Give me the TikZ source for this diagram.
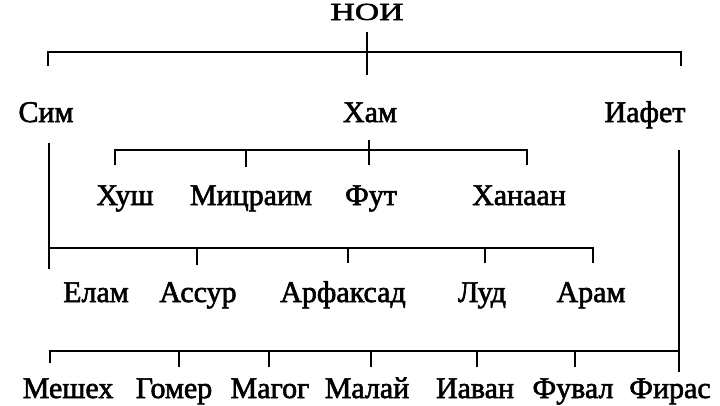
\documentclass[tikz,border=0pt]{standalone}
\usepackage{fontspec}
\setmainfont{Liberation Serif}[FakeBold=2]
\begin{document}
\begin{tikzpicture}[x=1pt,y=-1pt,
  lbl/.style={anchor=base, inner sep=0pt, font=\fontsize{30}{30}\selectfont},
  ln/.style={line width=2.8pt, line cap=butt, line join=miter}]
\useasboundingbox[fill=white] (0,0) rectangle (720,405);
% labels
\node[lbl] (noi) at (367,20) {\scalebox{1.12}[0.82]{НОИ}};
\node[lbl] (sim) at (46,122) {Сим};
\node[lbl] (ham) at (370,122) {Хам};
\node[lbl] (iafet) at (645,122) {Иафет};
\node[lbl] (khush) at (125,205) {Хуш};
\node[lbl] (mits) at (251,205) {Мицраим};
\node[lbl] (fut) at (371,205) {Фут};
\node[lbl] (khanaan) at (519,205) {Ханаан};
\node[lbl] (elam) at (96,302) {Елам};
\node[lbl] (assur) at (198,302) {Ассур};
\node[lbl] (arf) at (343,302) {Арфаксад};
\node[lbl] (lud) at (482,302) {Луд};
\node[lbl] (aram) at (591,302) {Арам};
\node[lbl] (meshekh) at (68,398) {Мешех};
\node[lbl] (gomer) at (174,398) {Гомер};
\node[lbl] (magog) at (270,398) {Магог};
\node[lbl] (malai) at (367,398) {Малай};
\node[lbl] (iavan) at (475,398) {Иаван};
\node[lbl] (fuval) at (573,398) {Фувал};
\node[lbl] (firas) at (670,398) {Фирас};
% Noah bracket
\coordinate (nT) at (367,32); \coordinate (nB) at (367,75);
\coordinate (nL) at (48,66); \coordinate (nLc) at (48,52);
\coordinate (nR) at (681,66); \coordinate (nRc) at (681,52);
\draw[ln] (nL) -- (nLc) -- (nRc) -- (nR);
\draw[ln] (nT) -- (nB);
% Ham bracket
\coordinate (hT) at (369,140); \coordinate (hB) at (369,165);
\coordinate (hL) at (115,165); \coordinate (hLc) at (115,150);
\coordinate (hR) at (527,165); \coordinate (hRc) at (527,150);
\coordinate (hM) at (246,150); \coordinate (hMb) at (246,167);
\draw[ln] (hL) -- (hLc) -- (hRc) -- (hR);
\draw[ln] (hT) -- (hB);
\draw[ln] (hM) -- (hMb);
% Sim bracket
\coordinate (sT) at (49,143); \coordinate (sB) at (49,269);
\coordinate (sLc) at (49,248);
\coordinate (sRc) at (593,248); \coordinate (sR) at (593,263);
\draw[ln] (sT) -- (sB);
\draw[ln] (sLc) -- (sRc) -- (sR);
\foreach \x/\b in {197/265,348/263,485/263}
  \draw[ln] (\x,248) -- (\x,\b);
% Iafet bracket
\coordinate (iT) at (679,150); \coordinate (iB) at (679,372);
\coordinate (iRc) at (679,351);
\coordinate (iLc) at (50,351); \coordinate (iL) at (50,363);
\draw[ln] (iT) -- (iB);
\draw[ln] (iL) -- (iLc) -- (iRc);
\foreach \x in {179,269,371,477,575}
  \draw[ln] (\x,351) -- (\x,367);
\end{tikzpicture}
\end{document}
